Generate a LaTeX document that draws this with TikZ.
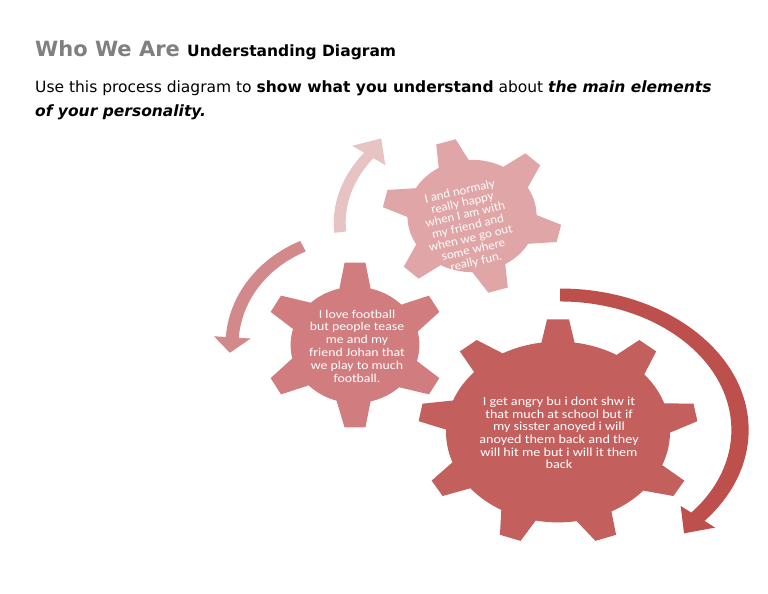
\documentclass[tikz,border=0pt]{standalone}
\usepackage{fontspec}
\setmainfont{DejaVu Sans}
\newfontfamily\gearfont[FakeStretch=1.15]{Carlito}
\newfontfamily\topfont[FakeStretch=1.05]{Lato}
\definecolor{gbig}{RGB}{195,96,94}
\definecolor{gmid}{RGB}{209,125,127}
\definecolor{gtop}{RGB}{224,165,166}
\definecolor{abig}{RGB}{189,79,77}
\definecolor{amid}{RGB}{210,137,140}
\definecolor{atop}{RGB}{231,195,196}
\definecolor{titlegray}{RGB}{128,128,128}
% gear in unit frame: #1 teeth, #2 body radius, #3 base half-angle, #4 tip half-angle, #5 style
\newcommand\gearshape[5]{%
  \fill[#5] ({90-#3}:#2)
  \foreach \k in {1,...,#1}{
    -- ({90+(\k-1)*360/#1-#4}:1) -- ({90+(\k-1)*360/#1+#4}:1)
    -- ({90+(\k-1)*360/#1+#3}:#2)
    \foreach \j in {1,...,11}{ -- ({90+(\k-1)*360/#1+#3+\j*(360/#1-2*#3)/12}:#2) }
  } -- cycle;
}
% circular arrow in unit frame: #1 start, #2 head base, #3 tip angle, #4 band half, #5 head half, #6 tip radius, #7 style
\newcommand\circarrow[7]{%
  \fill[#7] ({#1}:{1+#4}) arc[start angle=#1, end angle=#2, radius={1+#4}]
    -- ({#2}:{1+#5}) -- ({#3}:#6) -- ({#2}:{1-#5}) -- ({#2}:{1-#4})
    arc[start angle=#2, end angle=#1, radius={1-#4}] -- cycle;
}
\tikzset{
  geartext/.style={text=white, align=center, inner sep=0pt},
}
\begin{document}
\begin{tikzpicture}[x=1pt,y=1pt]
\useasboundingbox (0,0) rectangle (768,594);
\fill[white] (0,0) rectangle (768,594);

% title
\node[anchor=base west, inner sep=0pt] (title) at (35,537)
  {\fontsize{21}{24}\selectfont\bfseries\textcolor{titlegray}{Who We Are} \fontsize{15.5}{18}\selectfont Understanding Diagram};
\node[anchor=base west, inner sep=0pt] (line1) at (35,501)
  {\fontsize{15.5}{18}\selectfont Use this process diagram to \textbf{show what you understand} about \textbf{\itshape the main elements}};
\node[anchor=base west, inner sep=0pt] (line2) at (35,477)
  {\fontsize{15.5}{18}\selectfont\bfseries\itshape of your personality.};

% big gear and arrow
\begin{scope}[shift={(558,162)}, xscale=140, yscale=113]
  \gearshape{9}{0.8}{8.5}{4.5}{gbig}
\end{scope}
\begin{scope}[shift={(560,164)}, xscale=180, yscale=135]
  \circarrow{90}{-40}{-48}{0.048}{0.125}{1.03}{abig}
\end{scope}

% middle gear and arrow
\begin{scope}[shift={(355,249)}, xscale=92, yscale=83]
  \gearshape{6}{0.7}{14}{6.5}{gmid}
\end{scope}
\begin{scope}[shift={(355,249)}, xscale=123, yscale=109]
  \circarrow{115}{176}{184}{0.053}{0.15}{1.02}{amid}
\end{scope}

% top gear and arrow
\begin{scope}[shift={(472,378)}, xscale=1.15, rotate=17]
  \begin{scope}[scale=78]
    \gearshape{6}{0.72}{14}{6.5}{gtop}
  \end{scope}
  \begin{scope}[xscale=116, yscale=104]
    \circarrow{170}{126}{116}{0.045}{0.16}{1.04}{atop}
  \end{scope}
\end{scope}

% texts
\node[geartext, font=\gearfont\fontsize{12.3}{12.7}\selectfont] (tbig) at (559,161)
  {I get angry bu i dont shw it\\that much at school but if\\my sisster anoyed i will\\anoyed them back and they\\will hit me but i will it them\\back};
\node[geartext, font=\gearfont\fontsize{12}{12.8}\selectfont] (tmid) at (357,248)
  {I love football\\but people tease\\me and my\\friend Johan that\\we play to much\\football.};
\node[geartext, rotate=13, font=\topfont\fontsize{11.5}{12}\selectfont] (ttop) at (468,367)
  {I and normaly\\really happy\\when I am with\\my friend and\\when we go out\\some where\\really fun.};
\end{tikzpicture}
\end{document}
